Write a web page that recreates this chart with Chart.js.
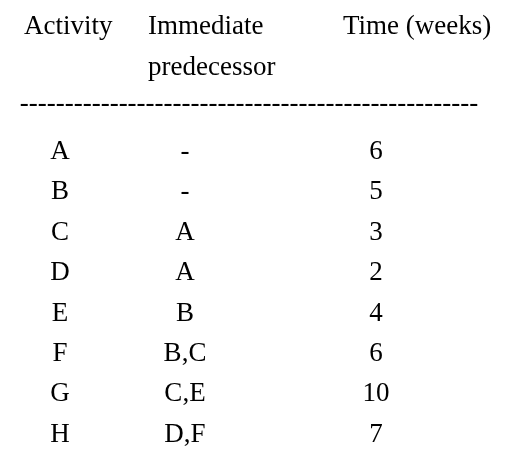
<!DOCTYPE html>
<html>
<head>
<meta charset="utf-8">
<script src="https://cdn.jsdelivr.net/npm/chart.js@4/dist/chart.umd.min.js"></script>
<style>
  html, body { margin: 0; padding: 0; background: #fff; }
  #wrap { width: 528px; height: 470px; }
</style>
</head>
<body>
<div id="wrap"><canvas id="myChart"></canvas></div>
<script>
// table data
const activities = ['A', 'B', 'C', 'D', 'E', 'F', 'G', 'H'];
const predecessors = ['-', '-', 'A', 'A', 'B', 'B,C', 'C,E', 'D,F'];
const times = ['6', '5', '3', '2', '4', '6', '10', '7'];
const headers = ['Activity', 'Immediate', 'Time (weeks)'];

// layout (pixel units on a 528x470 scale)
const colX = [60, 185, 376];
const rowY0 = 152, rowStep = 40.4;

const tablePlugin = {
  id: 'tablePlugin',
  afterDraw(chart) {
    const c = chart.ctx, xs = chart.scales.x, ys = chart.scales.y;
    const X = v => xs.getPixelForValue(v), Y = v => ys.getPixelForValue(v);
    c.save();
    c.fillStyle = '#000';
    c.font = '27px "Liberation Serif", "DejaVu Serif", serif';
    c.textBaseline = 'middle';
    c.textAlign = 'left';
    c.fillText(headers[0], X(24), Y(27));
    c.fillText(headers[1], X(148), Y(27));
    c.fillText('predecessor', X(148), Y(68));
    c.fillText(headers[2], X(343), Y(27));
    c.textAlign = 'center';
    let dashes = '-';
    while (c.measureText(dashes + '-').width < 462) dashes += '-';
    c.fillText(dashes, X(249), Y(104));
    activities.forEach((a, i) => {
      const y = Y(rowY0 + i * rowStep);
      c.fillText(a, X(colX[0]), y);
      c.fillText(predecessors[i], X(colX[1]), y);
      c.fillText(times[i], X(colX[2]), y);
    });
    c.restore();
  }
};

const ctx = document.getElementById('myChart').getContext('2d');
new Chart(ctx, {
  type: 'scatter',
  data: { datasets: [{ data: [], pointRadius: 0 }] },
  options: {
    responsive: true,
    maintainAspectRatio: false,
    animation: false,
    layout: { padding: 0 },
    plugins: { legend: { display: false }, tooltip: { enabled: false } },
    scales: {
      x: { type: 'linear', min: 0, max: 528, display: false },
      y: { type: 'linear', min: 0, max: 470, reverse: true, display: false }
    }
  },
  plugins: [tablePlugin]
});
</script>
</body>
</html>
